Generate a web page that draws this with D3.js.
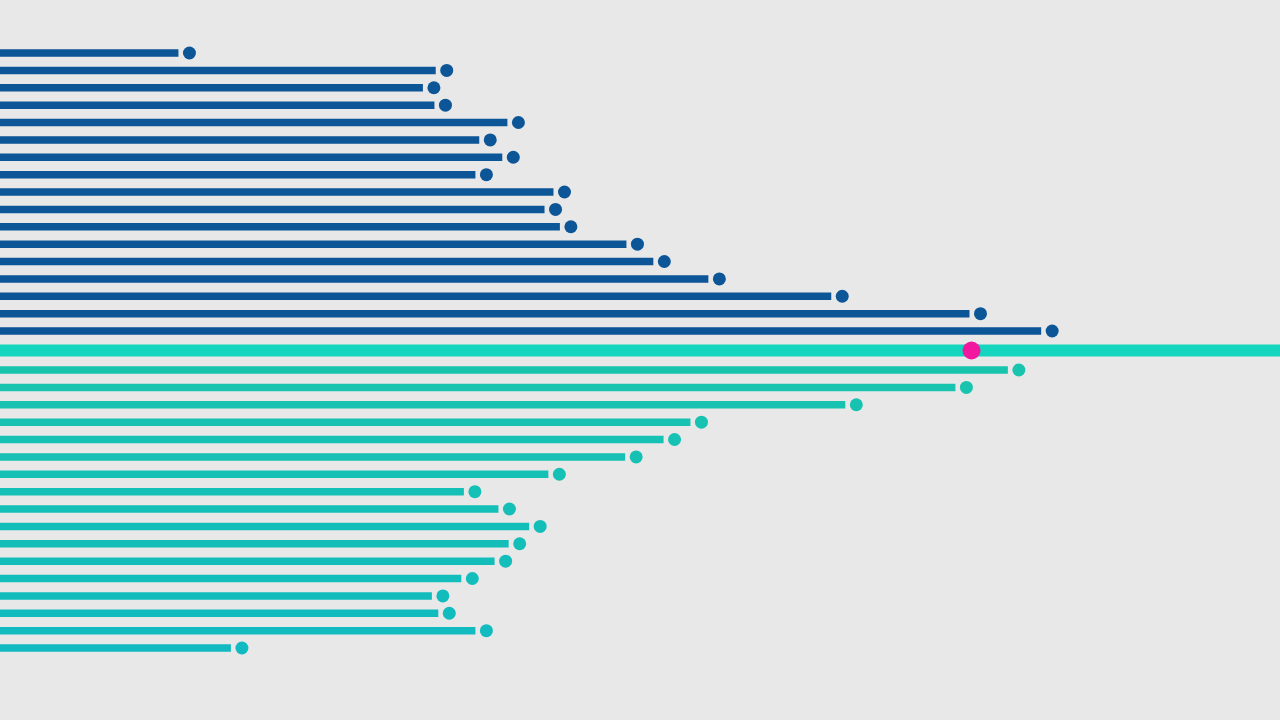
<!DOCTYPE html>
<html>
<head>
<meta charset="utf-8">
<script src="https://cdn.jsdelivr.net/npm/d3@7"></script>
<style>
  html, body { margin: 0; padding: 0; background: #e8e8e8; }
  svg { display: block; }
</style>
</head>
<body>
<div id="root"></div>
<script>
// values on a 0-100 scale (top to bottom)
const blueValues = [14.8, 34.9, 33.9, 34.8, 40.5, 38.3, 40.1, 38.0, 44.1, 43.4, 44.6, 49.8, 51.9, 56.2, 65.8, 76.6, 82.2]
const highlightValue = 75.9
const tealValues = [79.6, 75.5, 66.9, 54.8, 52.7, 49.7, 43.7, 37.1, 39.8, 42.2, 40.6, 39.5, 36.9, 34.6, 35.1, 38.0, 18.9]

const blueData = blueValues.map((v, i) => ({ group: "blue", index: i, value: v }))
const tealData = tealValues.map((v, i) => ({ group: "teal", index: i, value: v }))
const highlightData = [{ group: "highlight", index: 0, value: highlightValue }]

const width = 1280
const height = 720

const ROOT_ELEM = d3.select("#root")
ROOT_ELEM.selectAll("*").remove()

const wrapper = ROOT_ELEM.append("svg")
  .attr("width", width)
  .attr("height", height)

wrapper.append("rect")
  .attr("width", width)
  .attr("height", height)
  .attr("fill", "#e8e8e8")

const xScale = d3.scaleLinear()
  .domain([0, 100])
  .range([0, 1280])

// the highlighted row sits in a slightly wider gap between the two groups
const blueY = d3.scalePoint()
  .domain(d3.range(blueValues.length))
  .range([53, 331])

const tealY = d3.scalePoint()
  .domain(d3.range(tealValues.length))
  .range([370, 648])

const yOf = d => {
  if (d.group === "blue") return blueY(d.index)
  if (d.group === "teal") return tealY(d.index)
  return (blueY(blueValues.length - 1) + tealY(0)) / 2
}

const tealColor = d3.scaleLinear()
  .domain([0, tealValues.length - 1])
  .range(["#18c4ae", "#10bac0"])

const colorOf = d => {
  if (d.group === "blue") return "#0c5596"
  if (d.group === "highlight") return "#14d5bd"
  return tealColor(d.index)
}

const dotGap = 11

const rows = wrapper.append("g")
  .selectAll("g")
  .data([...blueData, ...highlightData, ...tealData])
  .join("g")

// stems
rows.append("line")
  .attr("x1", 0)
  .attr("x2", d => d.group === "highlight" ? width : xScale(d.value) - dotGap)
  .attr("y1", yOf)
  .attr("y2", yOf)
  .attr("stroke", colorOf)
  .attr("stroke-width", d => d.group === "highlight" ? 12 : 7.5)

// dots
rows.append("circle")
  .attr("cx", d => xScale(d.value))
  .attr("cy", yOf)
  .attr("r", d => d.group === "highlight" ? 9 : 6.5)
  .attr("fill", d => d.group === "highlight" ? "#f2179f" : colorOf(d))
</script>
</body>
</html>
